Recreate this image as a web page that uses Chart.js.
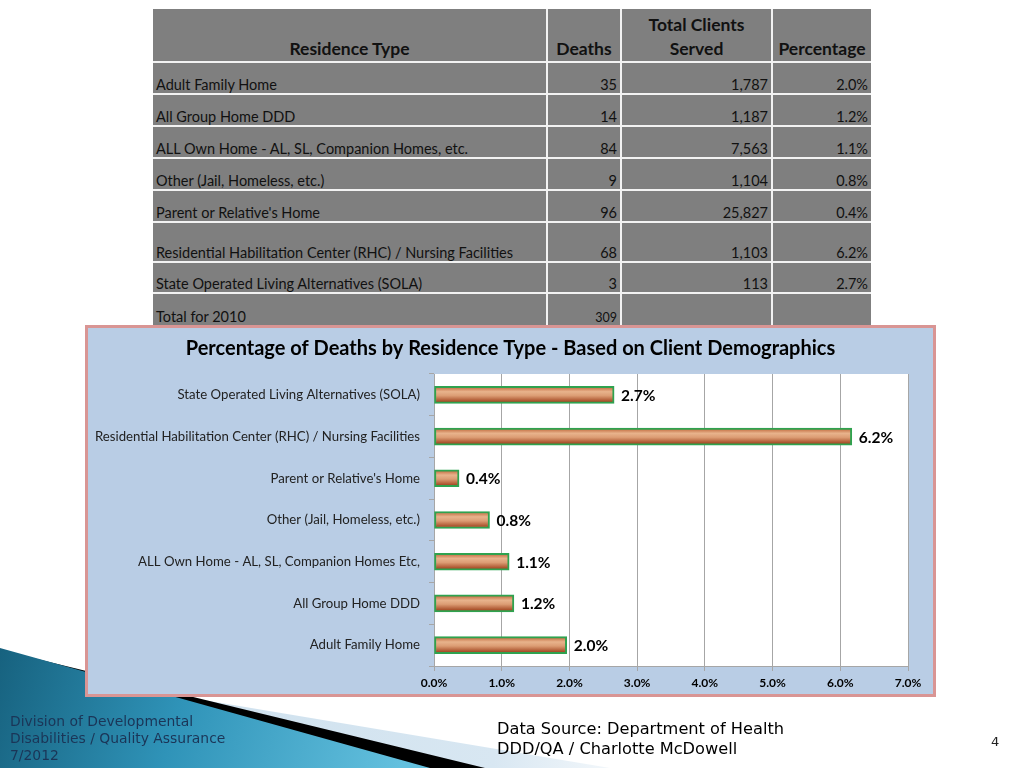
<!DOCTYPE html>
<html>
<head>
<meta charset="utf-8">
<script src="https://cdn.jsdelivr.net/npm/chart.js@4.4.1/dist/chart.umd.min.js"></script>
<style>
  body { margin: 0; }
  #slide { position: relative; width: 1024px; height: 768px; background: #fff; overflow: hidden; font-family: Lato, "Noto Sans", sans-serif; }
  #deco { position: absolute; left: 0; top: 0; }
  #stats { position: absolute; left: 153px; top: 9px; width: 718px; border-collapse: collapse; table-layout: fixed; z-index: 3; background: #7f7f7f; color: #111; font-size: 14.5px; }
  #stats td, #stats th { border: 2px solid #f2f2f2; padding: 0 3px 0 3px; vertical-align: bottom; white-space: nowrap; }
  #stats tr:first-child th { border-top: none; }
  #stats td:first-child, #stats th:first-child { border-left: none; }
  #stats td:last-child, #stats th:last-child { border-right: none; }
  #stats tr:last-child td { border-bottom: none; }
  #stats th { font-size: 17.5px; font-weight: bold; line-height: 24px; padding-bottom: 0; text-align: center; }
  #stats td.num { text-align: right; }
  #chartBox { position: absolute; left: 85px; top: 325px; width: 851px; height: 372px; box-sizing: border-box; border: 3px solid #d99594; background: #b9cde5; z-index: 2; }
  #chart { position: absolute; left: 0; top: 0; }
  .foot { position: absolute; font-family: "DejaVu Sans", sans-serif; z-index: 4; }
  #org { left: 10px; top: 713px; font-size: 13.9px; line-height: 17px; color: #1b3557; }
  #src { left: 497px; top: 719px; font-size: 16.2px; line-height: 20px; color: #000; }
  #page { left: 991px; top: 734px; font-size: 13px; color: #222; }
</style>
</head>
<body>
<div id="slide">
  <canvas id="deco" width="1024" height="768"></canvas>
  <table id="stats"></table>
  <div id="chartBox"><canvas id="chart" width="845" height="366"></canvas></div>
  <div class="foot" id="org">Division of Developmental<br>Disabilities / Quality Assurance<br>7/2012</div>
  <div class="foot" id="src">Data Source: Department of Health<br>DDD/QA / Charlotte McDowell</div>
  <div class="foot" id="page">4</div>
</div>
<script>
// table data
const residenceTypes = [
    'Adult Family Home',
    'All Group Home DDD',
    'ALL Own Home - AL, SL, Companion Homes, etc.',
    'Other (Jail, Homeless, etc.)',
    "Parent or Relative's Home",
    'Residential Habilitation Center (RHC) / Nursing Facilities',
    'State Operated Living Alternatives (SOLA)'
];
const deaths = [35, 14, 84, 9, 96, 68, 3];
const clientsServed = ['1,787', '1,187', '7,563', '1,104', '25,827', '1,103', '113'];
const pctLabels = ['2.0%', '1.2%', '1.1%', '0.8%', '0.4%', '6.2%', '2.7%'];
const totalLabel = 'Total for 2010';
const totalDeaths = 309;

// chart data
const chartTitle = 'Percentage of Deaths by Residence Type - Based on Client Demographics';
const chartLabels = [
    'Adult Family Home',
    'All Group Home DDD',
    'ALL Own Home - AL, SL, Companion Homes Etc,',
    'Other (Jail, Homeless, etc.)',
    "Parent or Relative's Home",
    'Residential Habilitation Center (RHC) / Nursing Facilities',
    'State Operated Living Alternatives (SOLA)'
];
const pctValues = [1.96, 1.18, 1.11, 0.82, 0.37, 6.17, 2.66];
const xMin = 0, xMax = 7, xStep = 1;

const headHeight = 53;
const rowHeights = [32, 32, 32, 32, 32, 40, 31, 32];

const FONT = 'Lato, "Noto Sans", sans-serif';

// build the table
var html = '<colgroup><col style="width:394px"><col style="width:74px"><col style="width:151px"><col style="width:99px"></colgroup>';
html += '<tr style="height:' + headHeight + 'px"><th>Residence Type</th><th>Deaths</th><th>Total Clients<br>Served</th><th>Percentage</th></tr>';
residenceTypes.forEach(function(name, i) {
    html += '<tr style="height:' + rowHeights[i] + 'px"><td>' + name + '</td><td class="num">' + deaths[i] +
        '</td><td class="num">' + clientsServed[i] + '</td><td class="num">' + pctLabels[i] + '</td></tr>';
});
html += '<tr style="height:' + rowHeights[7] + 'px"><td>' + totalLabel + '</td><td class="num" style="font-size:12.5px">' + totalDeaths + '</td><td></td><td></td></tr>';
document.getElementById('stats').innerHTML = html;

// background shapes in the lower left corner
const drawDeco = function() {
    var c = document.getElementById('deco').getContext('2d');
    var lb = c.createLinearGradient(200, 0, 620, 0);
    lb.addColorStop(0, '#cfe1ee');
    lb.addColorStop(0.7, '#d8e7f2');
    lb.addColorStop(1, '#f4f8fb');
    c.fillStyle = lb;
    c.beginPath();
    c.moveTo(0, 666); c.lineTo(610, 768); c.lineTo(0, 768); c.closePath();
    c.fill();

    c.fillStyle = '#000';
    c.beginPath();
    c.moveTo(0, 650); c.lineTo(485, 768); c.lineTo(0, 768); c.closePath();
    c.fill();

    var t = c.createLinearGradient(0, 650, 400, 768);
    t.addColorStop(0, '#17627f');
    t.addColorStop(0.45, '#2f93b8');
    t.addColorStop(1, '#63c0de');
    c.fillStyle = t;
    c.beginPath();
    c.moveTo(0, 648); c.lineTo(430, 768); c.lineTo(0, 768); c.closePath();
    c.fill();
}
drawDeco();

// vertical gradient for each bar
const barFill = function(context) {
    var chart = context.chart;
    if (!chart.chartArea) return '#d08050';
    var y = chart.scales.y.getPixelForValue(context.dataIndex);
    var g = chart.ctx.createLinearGradient(0, y - 8, 0, y + 8);
    g.addColorStop(0, '#c0673a');
    g.addColorStop(0.3, '#e8b38c');
    g.addColorStop(0.55, '#dc9d74');
    g.addColorStop(1, '#9a3a15');
    return g;
}

const plotBackground = {
    id: 'plotBackground',
    beforeDraw: function(chart) {
        var a = chart.chartArea;
        chart.ctx.save();
        chart.ctx.fillStyle = '#ffffff';
        chart.ctx.fillRect(a.left, a.top, a.right - a.left, a.bottom - a.top);
        chart.ctx.restore();
    }
}

const barValueLabels = {
    id: 'barValueLabels',
    afterDatasetsDraw: function(chart) {
        var c = chart.ctx;
        c.save();
        c.font = 'bold 15.5px ' + FONT;
        c.fillStyle = '#000';
        c.textAlign = 'left';
        c.textBaseline = 'middle';
        chart.getDatasetMeta(0).data.forEach(function(bar, i) {
            c.fillText(pctLabels[i], bar.x + 7, bar.y + 1);
        });
        c.restore();
    }
}

new Chart(document.getElementById('chart'), {
    type: 'bar',
    data: {
        labels: chartLabels,
        datasets: [{
            data: pctValues,
            backgroundColor: barFill,
            borderColor: '#2fa24f',
            borderWidth: 2,
            borderSkipped: false,
            barThickness: 17
        }]
    },
    options: {
        indexAxis: 'y',
        responsive: false,
        animation: false,
        layout: { padding: 0 },
        plugins: {
            legend: { display: false },
            tooltip: { enabled: false },
            title: {
                display: true,
                text: chartTitle,
                color: '#000',
                font: { family: FONT, size: 20, weight: 'bold' },
                padding: { top: 9, bottom: 13 }
            }
        },
        scales: {
            x: {
                min: xMin,
                max: xMax,
                ticks: {
                    stepSize: xStep,
                    color: '#000',
                    padding: 5,
                    font: { family: FONT, size: 12, weight: 'bold' },
                    callback: function(v) { return v.toFixed(1) + '%'; }
                },
                grid: { color: '#a6a6a6', tickLength: 5 },
                border: { color: '#a6a6a6' },
                afterFit: function(s) { s.height = 28; s.paddingRight = 25; }
            },
            y: {
                reverse: true,
                ticks: {
                    color: '#222',
                    padding: 9,
                    font: { family: FONT, size: 13.2 }
                },
                grid: { drawOnChartArea: false, tickLength: 5, color: '#a6a6a6' },
                border: { color: '#a6a6a6' },
                afterFit: function(s) { s.width = 346; }
            }
        }
    },
    plugins: [plotBackground, barValueLabels]
});
</script>
</body>
</html>
